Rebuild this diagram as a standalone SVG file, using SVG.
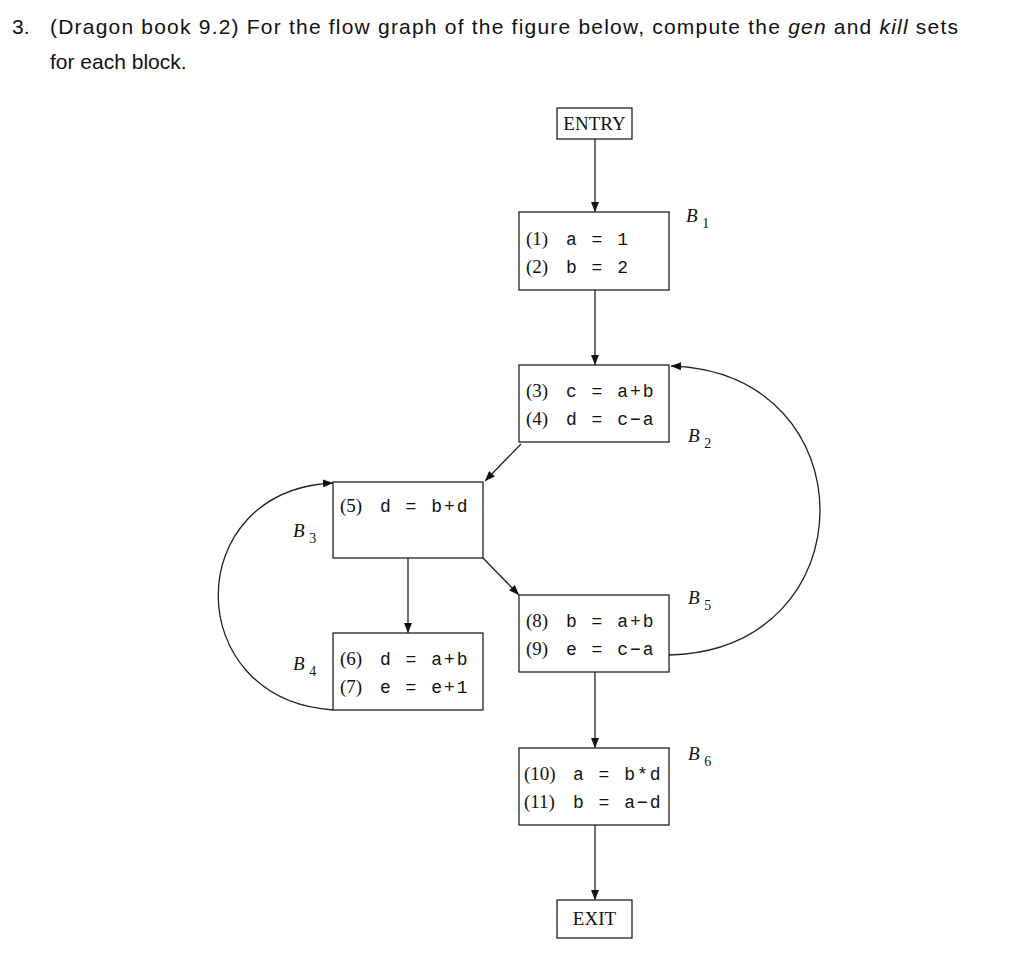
<svg xmlns="http://www.w3.org/2000/svg" width="1024" height="958" viewBox="0 0 1024 958">
<style>
.h{font-family:"Liberation Sans",Arial,sans-serif;font-size:21px;fill:#111}
.b{fill:#fff;stroke:#222;stroke-width:1.3}
.t{font-family:"Liberation Serif",serif;font-size:19px;fill:#111}
.m{font-family:"Liberation Mono",monospace;font-size:18px;letter-spacing:2px}
.l{font-family:"Liberation Serif",serif;font-style:italic;font-size:19px;fill:#111}
.s{font-family:"Liberation Serif",serif;font-size:14px;font-style:normal}
.c{fill:none;stroke:#222;stroke-width:1.3}
</style>
<defs><marker id="a" markerWidth="10" markerHeight="8" refX="10" refY="4" orient="auto" markerUnits="userSpaceOnUse"><path d="M0,0 L10,4 L0,8 Z" fill="#111"/></marker></defs>
<rect width="1024" height="958" fill="#fff"/>
<text class="h" x="12" y="34">3.</text>
<text class="h" x="50" y="34" textLength="908" lengthAdjust="spacing">(Dragon book 9.2) For the flow graph of the figure below, compute the <tspan font-style="italic">gen</tspan> and <tspan font-style="italic">kill</tspan> sets</text>
<text class="h" x="50" y="69">for each block.</text>
<g id="connectors">
<path class="c" marker-end="url(#a)" d="M595,139 V212"/>
<path class="c" marker-end="url(#a)" d="M595,290 V365"/>
<path class="c" marker-end="url(#a)" d="M521,444 L485,481"/>
<path class="c" marker-end="url(#a)" d="M483,558 L519,595"/>
<path class="c" marker-end="url(#a)" d="M408,558 V633"/>
<path class="c" marker-end="url(#a)" d="M595,672 V748"/>
<path class="c" marker-end="url(#a)" d="M595,825 V900"/>
<path class="c" marker-end="url(#a)" d="M669,655 C870,650 870,372 671,366"/>
<path class="c" marker-end="url(#a)" d="M333,710 C180,700 180,490 333,483"/>
</g>
<g id="entry"><rect class="b" x="557" y="108" width="75" height="31"/><text class="t" x="594.5" y="130" text-anchor="middle" font-size="16">ENTRY</text></g>
<g id="B1"><rect class="b" x="519" y="212" width="150" height="78"/><text class="t" x="526" y="245">(1) <tspan class="m" x="566">a = 1</tspan></text><text class="t" x="526" y="273">(2) <tspan class="m" x="566">b = 2</tspan></text><text class="l" x="686" y="222">B <tspan class="s" dy="6">1</tspan></text></g>
<g id="B2"><rect class="b" x="519" y="365" width="150" height="77"/><text class="t" x="526" y="397">(3) <tspan class="m" x="566">c = a+b</tspan></text><text class="t" x="526" y="425">(4) <tspan class="m" x="566">d = c−a</tspan></text><text class="l" x="688" y="442">B <tspan class="s" dy="6">2</tspan></text></g>
<g id="B3"><rect class="b" x="333" y="482" width="150" height="76"/><text class="t" x="340" y="512">(5) <tspan class="m" x="380">d = b+d</tspan></text><text class="l" x="293" y="537">B <tspan class="s" dy="6">3</tspan></text></g>
<g id="B4"><rect class="b" x="333" y="633" width="150" height="77"/><text class="t" x="340" y="665">(6) <tspan class="m" x="380">d = a+b</tspan></text><text class="t" x="340" y="693">(7) <tspan class="m" x="380">e = e+1</tspan></text><text class="l" x="293" y="670">B <tspan class="s" dy="6">4</tspan></text></g>
<g id="B5"><rect class="b" x="519" y="595" width="150" height="77"/><text class="t" x="526" y="627">(8) <tspan class="m" x="566">b = a+b</tspan></text><text class="t" x="526" y="655">(9) <tspan class="m" x="566">e = c−a</tspan></text><text class="l" x="688" y="604">B <tspan class="s" dy="6">5</tspan></text></g>
<g id="B6"><rect class="b" x="519" y="748" width="150" height="77"/><text class="t" x="524" y="780">(10) <tspan class="m" x="573">a = b*d</tspan></text><text class="t" x="524" y="808">(11) <tspan class="m" x="573">b = a−d</tspan></text><text class="l" x="688" y="760">B <tspan class="s" dy="6">6</tspan></text></g>
<g id="exit"><rect class="b" x="557" y="900" width="75" height="38"/><text class="t" x="594.5" y="925" text-anchor="middle" font-size="16">EXIT</text></g>
</svg>
